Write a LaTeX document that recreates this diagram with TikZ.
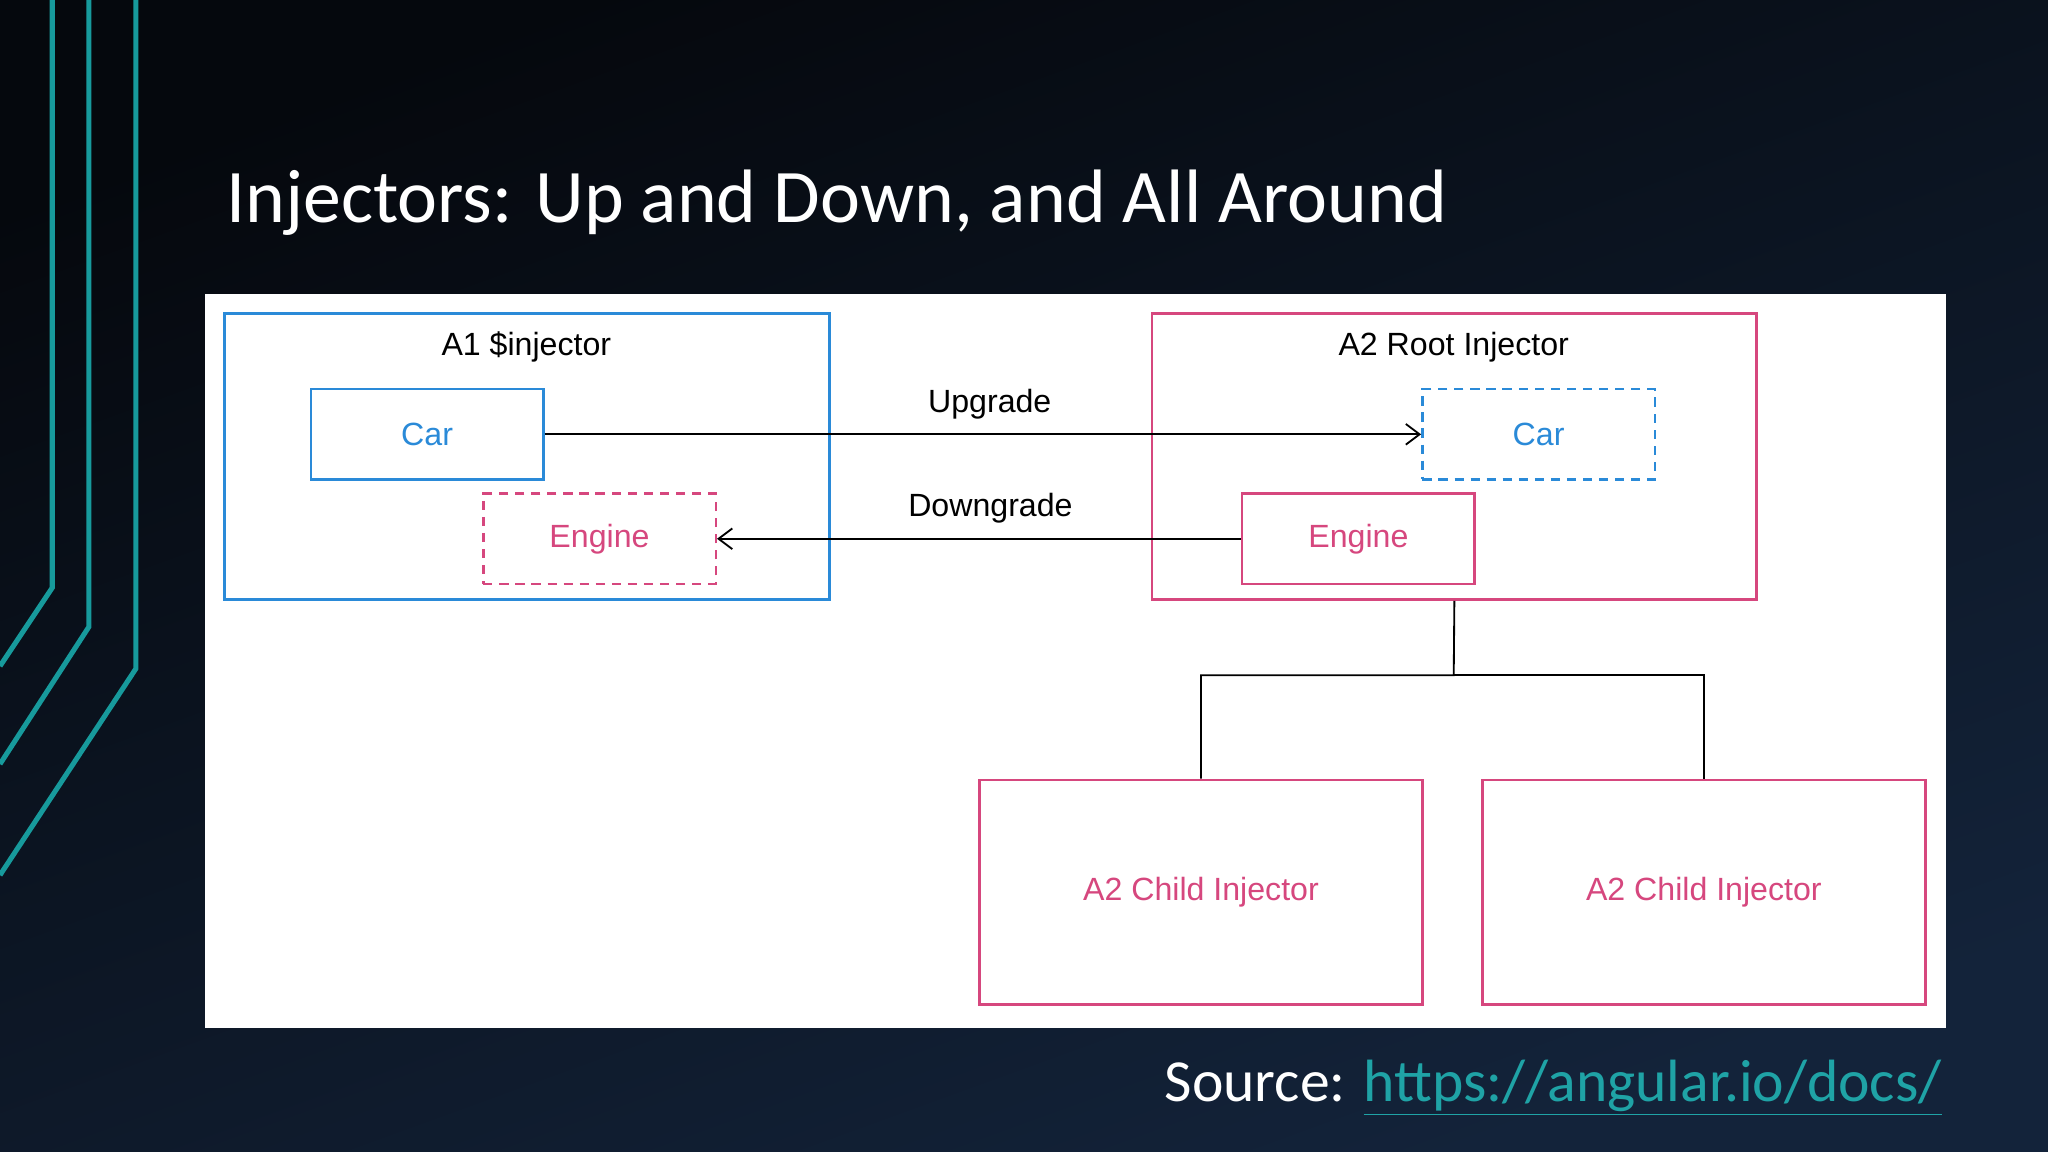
\documentclass[tikz,border=0pt]{standalone}
\usepackage{fontspec}
\setmainfont{Liberation Sans}
\newfontfamily\slidefont{Carlito}
\usetikzlibrary{arrows.meta,positioning}
\definecolor{bgtop}{HTML}{05080D}
\definecolor{bgbot}{HTML}{13233A}
\definecolor{teal}{HTML}{179A9C}
\definecolor{ngblue}{HTML}{2A8AD8}
\definecolor{ngpink}{HTML}{D6477E}
\definecolor{linkcol}{HTML}{1FA3A6}

\begin{document}
\begin{tikzpicture}[x=0.02cm,y=-0.02cm]
\tikzset{
  box/.style={draw,line width=1.1pt,minimum width=#1*0.02cm,inner sep=0pt,
    text=black,font=\fontsize{14}{16}\selectfont},
  box/.default=178,
  a1/.style={ngblue},
  a2/.style={ngpink},
  dashbox/.style={dash pattern=on 4pt off 3pt},
  wire/.style={line width=0.8pt,black},
  arr/.style={wire,-{Straight Barb[length=6pt,width=9pt]}},
  lbl/.style={black,font=\fontsize{14}{16}\selectfont}
}
% slide background
\shade[bottom color=bgbot,top color=bgtop,shading angle=20] (0,0) rectangle (1568,882);
\useasboundingbox (0,0) rectangle (1568,882);
\foreach \x/\y/\z in {40/450/510,68/480/585,104/512/670}
  \draw[teal,line width=2.2pt] (\x,0) -- (\x,\y) -- (0,\z);
\node[anchor=base west,white,font=\slidefont\fontsize{33}{38}\selectfont,inner sep=0pt] (title) at (173,170)
  {Injectors: Up and Down, and All Around};
\fill[white] (157,225) rectangle (1490,787);

% A1 side
\node[box=463,a1,minimum height=219*0.02cm] (a1inj) at (403.5,349.5) {};
\node[lbl] (a1lbl) at (403,266) {A1 \$injector};
\node[box,a1,minimum height=69*0.02cm] (car1) at (327,332.5) {Car};
\node[box,a2,dashbox,minimum height=69*0.02cm] (eng1) at (459,412.5) {Engine};

% A2 root
\node[box=463,a2,minimum height=219*0.02cm] (a2root) at (1113.5,349.5) {};
\node[lbl] (a2lbl) at (1113,266) {A2 Root Injector};
\node[box,a1,dashbox,minimum height=69*0.02cm] (car2) at (1178,332.5) {Car};
\node[box,a2,minimum height=69*0.02cm] (eng2) at (1040,412.5) {Engine};

% children
\node[box=339,a2,minimum height=172*0.02cm] (child1) at (919.5,683) {A2 Child Injector};
\node[box=339,a2,minimum height=172*0.02cm] (child2) at (1304.5,683) {A2 Child Injector};

\draw[arr] (car1.east) -- node[above=3pt,lbl,xshift=3pt] {Upgrade} (car2.west);
\draw[arr] (eng2.west) -- node[above=3pt,lbl,xshift=5pt] {Downgrade} (eng1.east);
\coordinate (split) at (1113,517);
\draw[wire] (a2root.south) -- (split) -| (child1.north);
\draw[wire] (split) -| (child2.north);

% source
\node[anchor=base east,font=\slidefont\fontsize{26}{31}\selectfont,inner sep=0pt] (src) at (1487,843)
  {\color{white}Source: \color{linkcol}\underline{https://angular.io/docs/}};
\end{tikzpicture}
\end{document}
